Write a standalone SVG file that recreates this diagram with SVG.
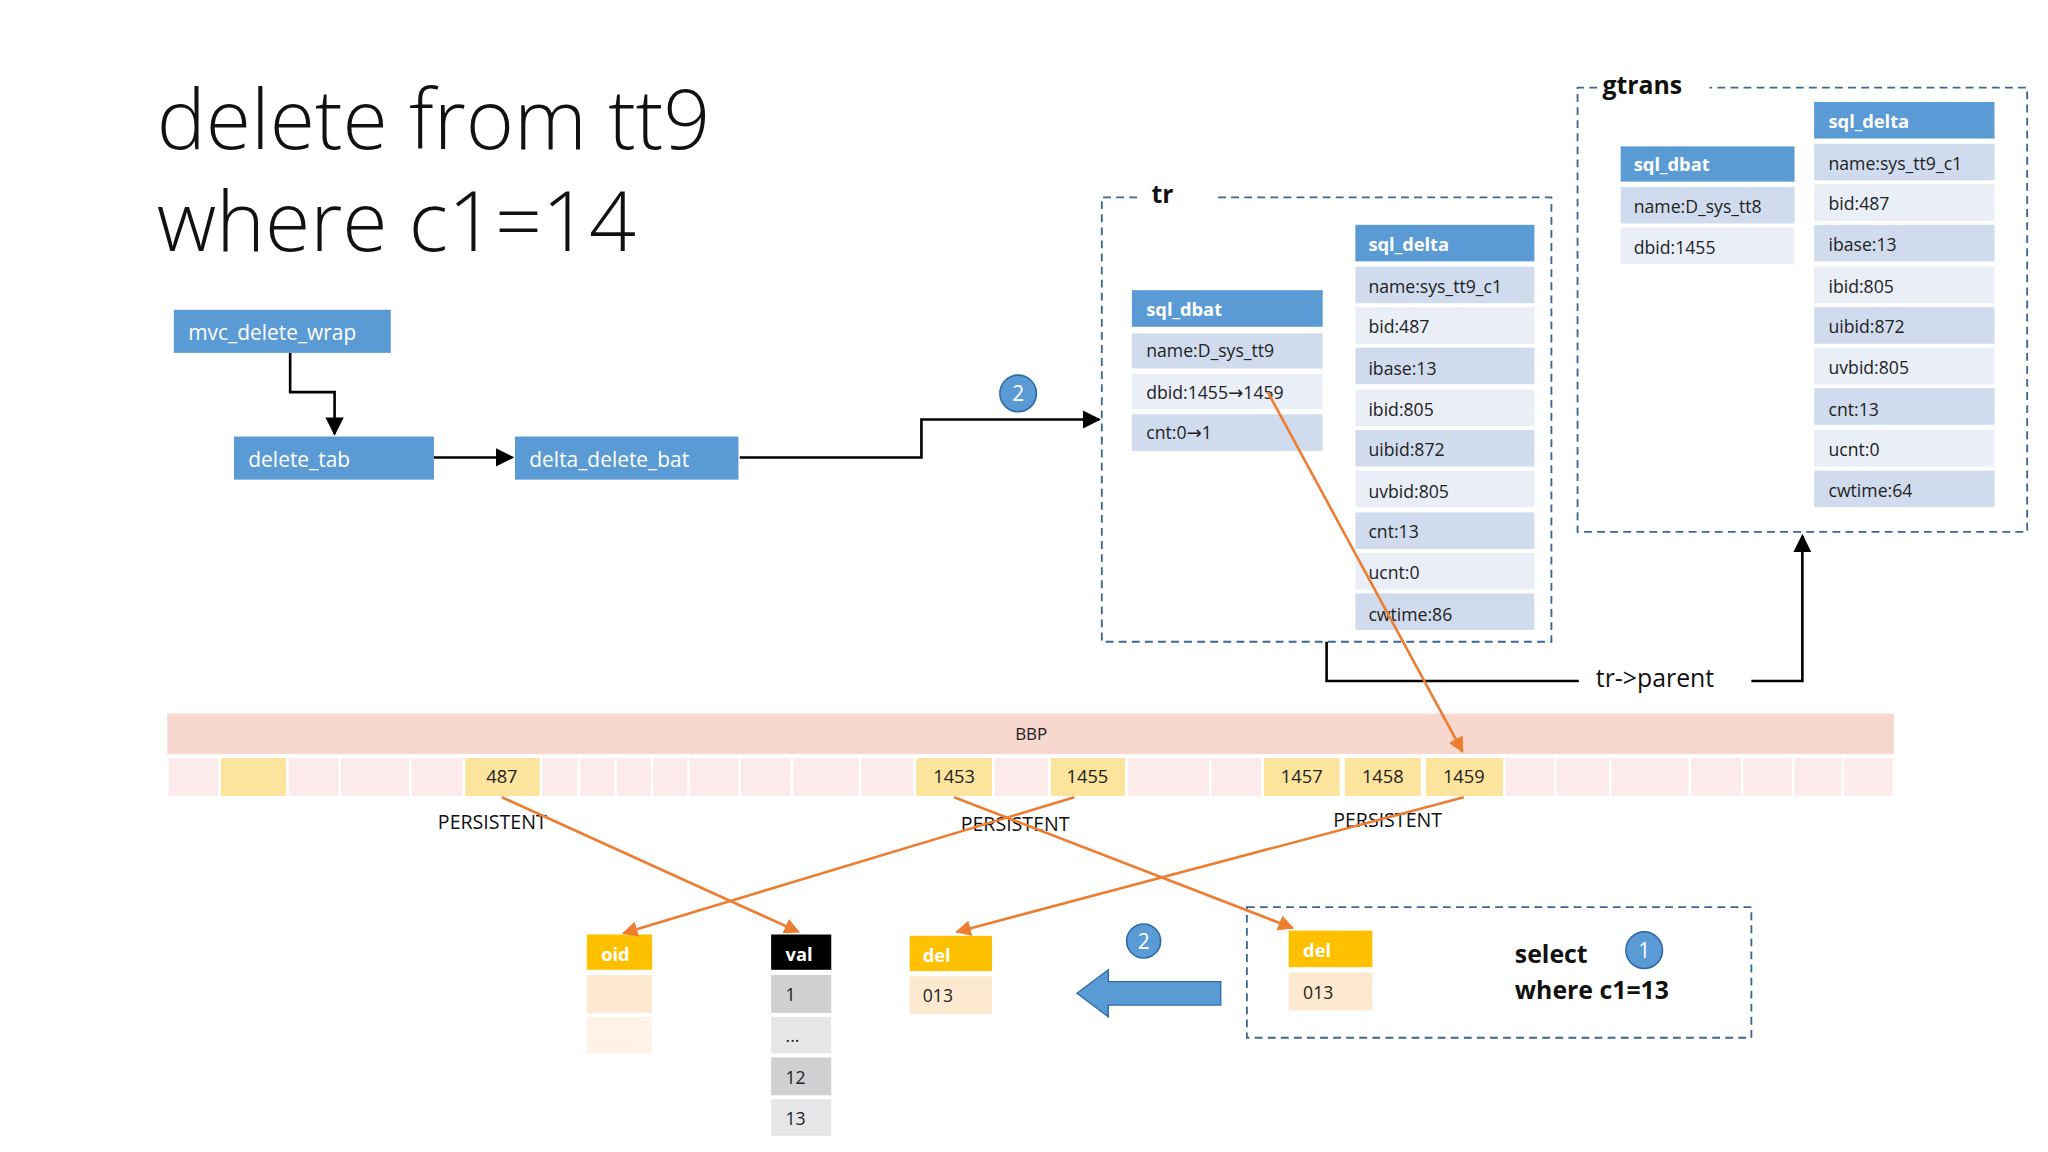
<svg xmlns="http://www.w3.org/2000/svg" width="2048" height="1152" viewBox="0 0 2048 1152">
<defs>
<style>
text{font-family:"Open Sans","Noto Sans",sans-serif}
.b{fill:#5b9bd5}
.d{fill:#d0dcee}
.l{fill:#e9eef7}
.w{fill:#fff;font-size:16px}
.wb{fill:#fff;font-size:14px;font-weight:bold}
.t{fill:#222;font-size:13.5px}
.ar{font-family:"DejaVu Sans",sans-serif;font-size:14px}
.dash{fill:none;stroke:#3c6794;stroke-width:1.4;stroke-dasharray:6,4}
.k{fill:none;stroke:#000;stroke-width:2}
.o{fill:none;stroke:#ed7d31;stroke-width:2}
.c{fill:#5b9bd5;stroke:#2e6aa6;stroke-width:1.2}
.ct{fill:#fff;font-size:16px;text-anchor:middle}
.y{fill:#fde49c}
.p{fill:#fcebea}
</style>
<marker id="ak" viewBox="0 0 10 10" refX="9" refY="5" markerWidth="7" markerHeight="7" orient="auto"><path d="M0,0L10,5L0,10z" fill="#000"/></marker>
<marker id="ao" viewBox="0 0 10 10" refX="9" refY="5" markerWidth="6" markerHeight="6" orient="auto"><path d="M0,0L10,5L0,10z" fill="#ed7d31"/></marker>
</defs>
<rect width="2048" height="1152" fill="#fff"/>
<g transform="scale(1.307)">
<g id="title">
<text x="120" y="114" font-size="63" font-weight="300" fill="#111">delete from tt9</text>
<text x="120" y="192" font-size="63" font-weight="300" fill="#111">where c1=14</text>
</g>
<g id="mvc_delete_wrap"><rect class="b" x="133" y="237" width="166" height="33"/><text class="w" x="144" y="260">mvc_delete_wrap</text></g>
<g id="delete_tab"><rect class="b" x="179" y="334" width="153" height="33"/><text class="w" x="190" y="357">delete_tab</text></g>
<g id="delta_delete_bat"><rect class="b" x="394" y="334" width="171" height="33"/><text class="w" x="405" y="357">delta_delete_bat</text></g>
<g id="tr">
<path class="dash" d="M870,151H843V491H1187V151H932"/>
<text x="881" y="155" font-size="19" font-weight="bold" fill="#111">tr</text>
<rect class="b" x="866" y="222" width="146" height="28"/><text class="wb" x="877" y="242">sql_dbat</text>
<rect class="d" x="866" y="255" width="146" height="27"/><text class="t" x="877" y="273">name:D_sys_tt9</text>
<rect class="l" x="866" y="286" width="146" height="27"/><text class="t" x="877" y="305">dbid:1455<tspan class="ar">→</tspan>1459</text>
<rect class="d" x="866" y="317" width="146" height="28"/><text class="t" x="877" y="336">cnt:0<tspan class="ar">→</tspan>1</text>
<rect class="b" x="1037" y="172" width="137" height="28"/><text class="wb" x="1047" y="192">sql_delta</text>
<rect class="d" x="1037" y="204" width="137" height="28"/><text class="t" x="1047" y="224">name:sys_tt9_c1</text>
<rect class="l" x="1037" y="235" width="137" height="28"/><text class="t" x="1047" y="255">bid:487</text>
<rect class="d" x="1037" y="266" width="137" height="28"/><text class="t" x="1047" y="287">ibase:13</text>
<rect class="l" x="1037" y="298" width="137" height="28"/><text class="t" x="1047" y="318">ibid:805</text>
<rect class="d" x="1037" y="329" width="137" height="28"/><text class="t" x="1047" y="349">uibid:872</text>
<rect class="l" x="1037" y="360" width="137" height="28"/><text class="t" x="1047" y="381">uvbid:805</text>
<rect class="d" x="1037" y="392" width="137" height="28"/><text class="t" x="1047" y="412">cnt:13</text>
<rect class="l" x="1037" y="423" width="137" height="28"/><text class="t" x="1047" y="443">ucnt:0</text>
<rect class="d" x="1037" y="454" width="137" height="28"/><text class="t" x="1047" y="475">cwtime:86</text>
</g>
<g id="gtrans">
<path class="dash" d="M1222,67H1207V407H1551V67H1308"/>
<text x="1226" y="72" font-size="19" font-weight="bold" fill="#111">gtrans</text>
<rect class="b" x="1240" y="112" width="133" height="27"/><text class="wb" x="1250" y="131">sql_dbat</text>
<rect class="d" x="1240" y="143" width="133" height="28"/><text class="t" x="1250" y="163">name:D_sys_tt8</text>
<rect class="l" x="1240" y="174" width="133" height="28"/><text class="t" x="1250" y="194">dbid:1455</text>
<rect class="b" x="1388" y="78" width="138" height="28"/><text class="wb" x="1399" y="98">sql_delta</text>
<rect class="d" x="1388" y="110" width="138" height="28"/><text class="t" x="1399" y="130">name:sys_tt9_c1</text>
<rect class="l" x="1388" y="141" width="138" height="28"/><text class="t" x="1399" y="161">bid:487</text>
<rect class="d" x="1388" y="172" width="138" height="28"/><text class="t" x="1399" y="192">ibase:13</text>
<rect class="l" x="1388" y="204" width="138" height="28"/><text class="t" x="1399" y="224">ibid:805</text>
<rect class="d" x="1388" y="235" width="138" height="28"/><text class="t" x="1399" y="255">uibid:872</text>
<rect class="l" x="1388" y="266" width="138" height="28"/><text class="t" x="1399" y="286">uvbid:805</text>
<rect class="d" x="1388" y="297" width="138" height="28"/><text class="t" x="1399" y="318">cnt:13</text>
<rect class="l" x="1388" y="329" width="138" height="28"/><text class="t" x="1399" y="349">ucnt:0</text>
<rect class="d" x="1388" y="360" width="138" height="28"/><text class="t" x="1399" y="380">cwtime:64</text>
</g>
<g id="bbp">
<rect x="128" y="546" width="1321" height="31" fill="#f8d7cf"/>
<text x="789" y="566" font-size="13" text-anchor="middle" fill="#222">BBP</text>
<g stroke="#fff" stroke-width="2">
<rect class="p" x="128" y="579" width="40" height="31"/><rect class="y" x="168" y="579" width="52" height="31"/>
<rect class="p" x="220" y="579" width="40" height="31"/><rect class="p" x="260" y="579" width="54" height="31"/>
<rect class="p" x="314" y="579" width="41" height="31"/><rect class="y" x="355" y="579" width="59" height="31"/>
<rect class="p" x="414" y="579" width="29" height="31"/><rect class="p" x="443" y="579" width="28" height="31"/>
<rect class="p" x="471" y="579" width="28" height="31"/><rect class="p" x="499" y="579" width="28" height="31"/>
<rect class="p" x="527" y="579" width="39" height="31"/><rect class="p" x="566" y="579" width="40" height="31"/>
<rect class="p" x="606" y="579" width="52" height="31"/><rect class="p" x="658" y="579" width="42" height="31"/>
<rect class="y" x="700" y="579" width="60" height="31"/><rect class="p" x="760" y="579" width="43" height="31"/>
<rect class="y" x="803" y="579" width="59" height="31"/><rect class="p" x="862" y="579" width="64" height="31"/>
<rect class="p" x="926" y="579" width="40" height="31"/><rect class="y" x="966" y="579" width="60" height="31"/>
<rect class="y" x="1028" y="579" width="60" height="31"/><rect class="y" x="1090" y="579" width="61" height="31"/>
<rect class="p" x="1151" y="579" width="39" height="31"/><rect class="p" x="1190" y="579" width="42" height="31"/>
<rect class="p" x="1232" y="579" width="61" height="31"/><rect class="p" x="1293" y="579" width="40" height="31"/>
<rect class="p" x="1333" y="579" width="39" height="31"/><rect class="p" x="1372" y="579" width="38" height="31"/>
<rect class="p" x="1410" y="579" width="39" height="31"/>
</g>
<g font-size="14" fill="#222" text-anchor="middle">
<text x="384" y="599">487</text><text x="730" y="599">1453</text><text x="832" y="599">1455</text>
<text x="996" y="599">1457</text><text x="1058" y="599">1458</text><text x="1120" y="599">1459</text>
</g>
<g font-size="15" fill="#111">
<text x="335" y="634">PERSISTENT</text><text x="735" y="636">PERSISTENT</text><text x="1020" y="633">PERSISTENT</text>
</g>
</g>
<g id="oid">
<rect x="449" y="715" width="50" height="27" fill="#ffc000"/><text class="wb" x="460" y="735">oid</text>
<rect x="449" y="746" width="50" height="29" fill="#fde9d0"/><rect x="449" y="778" width="50" height="28" fill="#fef3e6"/>
</g>
<g id="val">
<rect x="590" y="715" width="46" height="27" fill="#000"/><text class="wb" x="601" y="735">val</text>
<rect x="590" y="746" width="46" height="29" fill="#d0d0d3"/><text class="t" x="601" y="766">1</text>
<rect x="590" y="778" width="46" height="28" fill="#e6e6e9"/><text class="t" x="601" y="797">...</text>
<rect x="590" y="809" width="46" height="29" fill="#d0d0d3"/><text class="t" x="601" y="829">12</text>
<rect x="590" y="841" width="46" height="28" fill="#e6e6e9"/><text class="t" x="601" y="861">13</text>
</g>
<g id="del_left">
<rect x="696" y="716" width="63" height="27" fill="#ffc000"/><text class="wb" x="706" y="736">del</text>
<rect x="696" y="747" width="63" height="29" fill="#fde9d0"/><text class="t" x="706" y="767">013</text>
</g>
<g id="select_box">
<rect class="dash" x="954" y="694" width="386" height="100"/>
<rect x="986" y="712" width="64" height="28" fill="#ffc000"/><text class="wb" x="997" y="732">del</text>
<rect x="986" y="744" width="64" height="29" fill="#fde9d0"/><text class="t" x="997" y="764">013</text>
<text x="1159" y="737" font-size="19" font-weight="bold" fill="#111">select</text>
<text x="1159" y="764" font-size="19" font-weight="bold" fill="#111">where c1=13</text>
<circle class="c" cx="1258" cy="727" r="14"/><text class="ct" x="1258" y="733">1</text>
</g>
<g id="badges">
<circle class="c" cx="779" cy="301" r="14"/><text class="ct" x="779" y="307">2</text>
<circle class="c" cx="875" cy="720" r="13"/><text class="ct" x="875" y="726">2</text>
<path d="M934,751H848V742L824,760L848,778V769H934z" fill="#5b9bd5" stroke="#2e6aa6" stroke-width="1"/>
</g>
<g id="connectors">
<path class="k" d="M222,270V300H256V332" marker-end="url(#ak)"/>
<path class="k" d="M332,350H392" marker-end="url(#ak)"/>
<path class="k" d="M566,350H705V321H841" marker-end="url(#ak)"/>
<path class="k" d="M1015,491V521H1208"/>
<path class="k" d="M1340,521H1379V410" marker-end="url(#ak)"/>
<text x="1221" y="526" font-size="19" fill="#111">tr-&gt;parent</text>
<path class="o" d="M970,300L1119,575" marker-end="url(#ao)"/>
<path class="o" d="M384,610L611,713" marker-end="url(#ao)"/>
<path class="o" d="M822,610L477,714" marker-end="url(#ao)"/>
<path class="o" d="M1120,610L732,713" marker-end="url(#ao)"/>
<path class="o" d="M730,610L989,710" marker-end="url(#ao)"/>
</g>
</g>
</svg>
